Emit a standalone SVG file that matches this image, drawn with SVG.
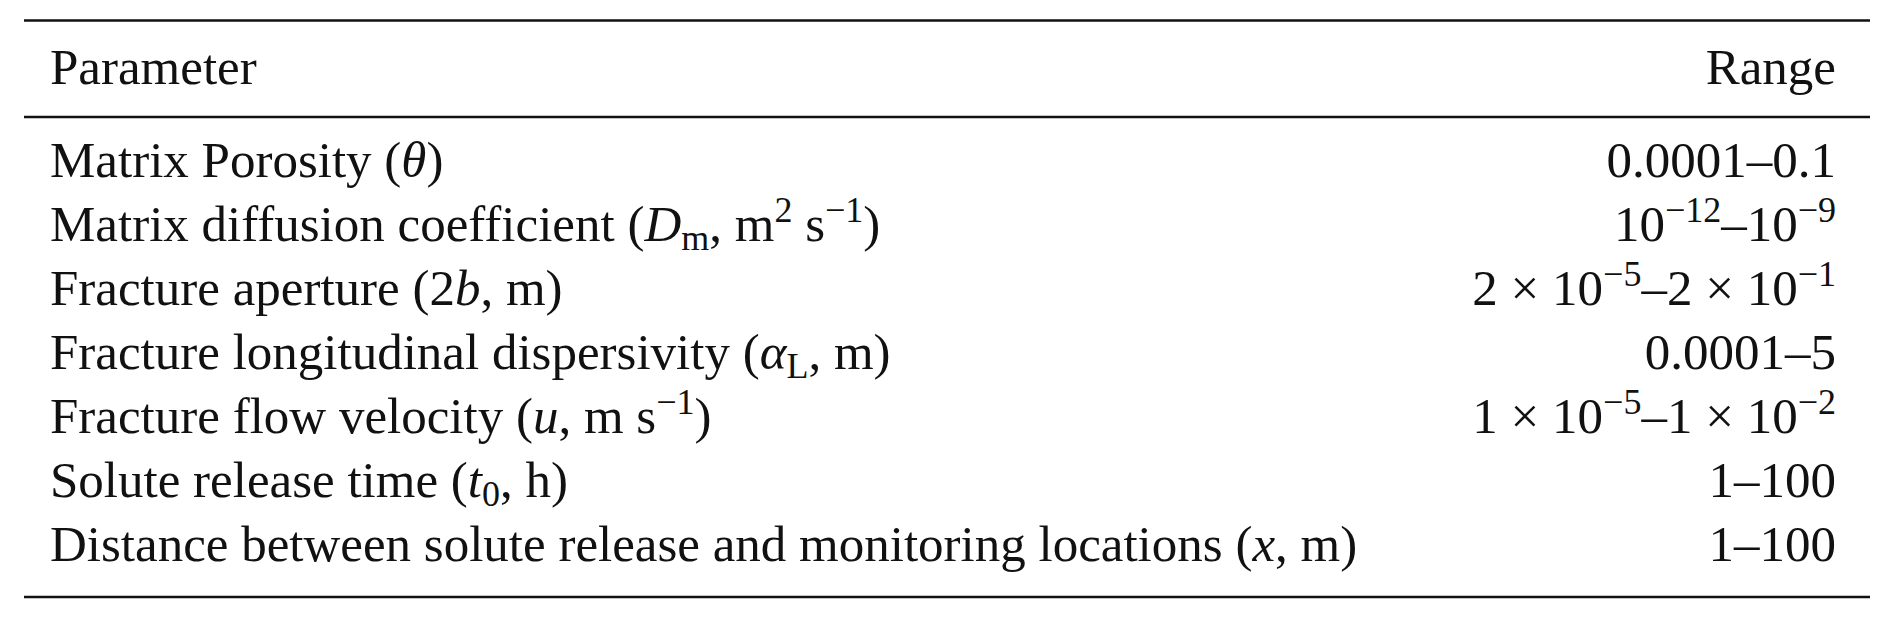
<svg xmlns="http://www.w3.org/2000/svg" width="1892" height="620" viewBox="0 0 1892 620">
<style>
text{font-family:"Liberation Serif","Times New Roman",serif;font-size:51px;fill:#111}
.r{text-anchor:end}
.i{font-style:italic}
.s{font-size:36px}
line{stroke:#111;stroke-width:2.6}
</style>
<rect width="1892" height="620" fill="#fff"/>
<line x1="24" y1="20.5" x2="1870" y2="20.5"/>
<line x1="24" y1="117" x2="1870" y2="117"/>
<line x1="24" y1="597" x2="1870" y2="597"/>
<text x="50" y="84">Parameter</text>
<text class="r" x="1836" y="84">Range</text>
<text x="50" y="177">Matrix Porosity (<tspan class="i">θ</tspan>)</text>
<text x="50" y="241">Matrix diffusion coefficient (<tspan class="i">D</tspan><tspan class="s" dy="9">m</tspan><tspan dy="-9">, m</tspan><tspan class="s" dy="-19">2</tspan><tspan dy="19"> s</tspan><tspan class="s" dy="-19">−1</tspan><tspan dy="19">)</tspan></text>
<text x="50" y="305">Fracture aperture (2<tspan class="i">b</tspan>, m)</text>
<text x="50" y="369">Fracture longitudinal dispersivity (<tspan class="i">α</tspan><tspan class="s" dy="9">L</tspan><tspan dy="-9">, m)</tspan></text>
<text x="50" y="433">Fracture flow velocity (<tspan class="i">u</tspan>, m s<tspan class="s" dy="-19">−1</tspan><tspan dy="19">)</tspan></text>
<text x="50" y="497">Solute release time (<tspan class="i">t</tspan><tspan class="s" dy="9">0</tspan><tspan dy="-9">, h)</tspan></text>
<text x="50" y="561">Distance between solute release and monitoring locations (<tspan class="i">x</tspan>, m)</text>
<text class="r" x="1836" y="177">0.0001–0.1</text>
<text class="r" x="1836" y="241">10<tspan class="s" dy="-19">−12</tspan><tspan dy="19">–10</tspan><tspan class="s" dy="-19">−9</tspan></text>
<text class="r" x="1836" y="305">2 × 10<tspan class="s" dy="-19">−5</tspan><tspan dy="19">–2 × 10</tspan><tspan class="s" dy="-19">−1</tspan></text>
<text class="r" x="1836" y="369">0.0001–5</text>
<text class="r" x="1836" y="433">1 × 10<tspan class="s" dy="-19">−5</tspan><tspan dy="19">–1 × 10</tspan><tspan class="s" dy="-19">−2</tspan></text>
<text class="r" x="1836" y="497">1–100</text>
<text class="r" x="1836" y="561">1–100</text>
</svg>
